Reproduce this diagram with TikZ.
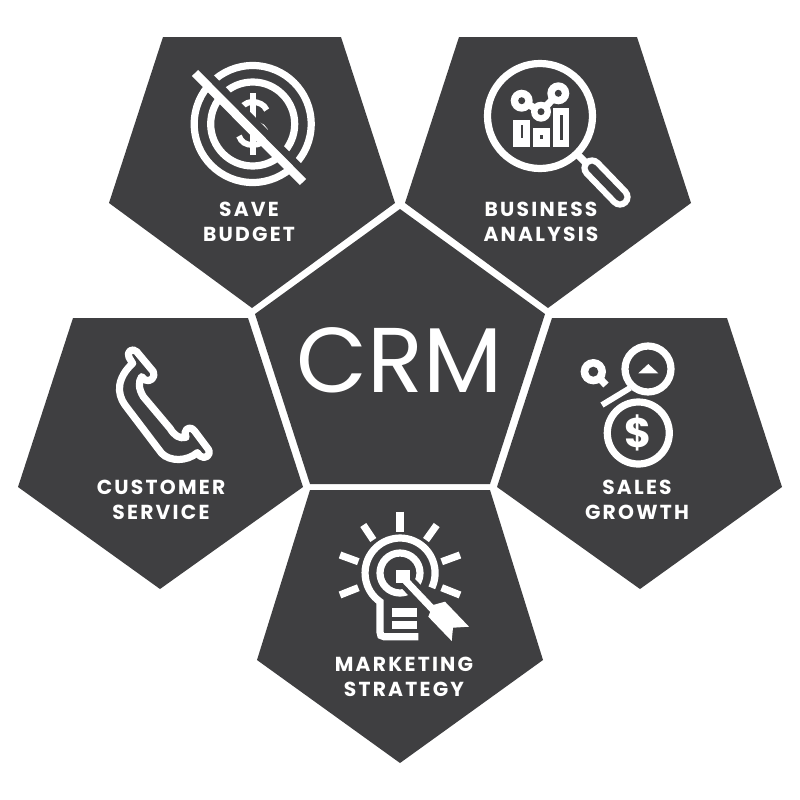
\documentclass[tikz,border=0pt]{standalone}
\usepackage{fontspec}
\newfontfamily\labelfont[LetterSpace=11]{Poppins}
\newfontfamily\titlefont{Poppins}
\definecolor{slate}{HTML}{3F3F41}

\begin{document}
\begin{tikzpicture}[x=0.75pt,y=-0.75pt]
\tikzstyle{panel} = [fill=slate]
\tikzstyle{label} = [white, align=center, font=\labelfont\bfseries\fontsize{15.2}{18.75}\selectfont]
\tikzstyle{icon} = [draw=white, line width=5.4pt]
\tikzstyle{thin icon} = [draw=white, line width=4.4pt]
\tikzstyle{gap} = [draw=slate, line width=12pt]

\useasboundingbox (0,0) rectangle (800,800);

\fill [panel] (163,37) -- (341,37) -- (395,203) -- (252,308) -- (109,203) -- cycle;
\fill [panel] (459,37) -- (637,37) -- (691,203) -- (548,308) -- (405,203) -- cycle;
\fill [panel] (400,209) -- (545,314) -- (490,484) -- (310,484) -- (255,314) -- cycle;
\fill [panel] (73,318) -- (248,318) -- (303,487) -- (160,589) -- (18,487) -- cycle;
\fill [panel] (552,318) -- (727,318) -- (782,487) -- (640,589) -- (497,487) -- cycle;
\fill [panel] (310,490) -- (490,490) -- (543,660) -- (400,763) -- (257,660) -- cycle;

\node (crm) at (400,360) {\titlefont\fontsize{69}{69}\selectfont\textcolor{white}{CRM}};
\node [label] (budget) at (249,222) {SAVE\\BUDGET};
\node [label] (analysis) at (541,222) {BUSINESS\\ANALYSIS};
\node [label] (service) at (161,500) {CUSTOMER\\SERVICE};
\node [label] (growth) at (637,500) {SALES\\GROWTH};
\node [label] (strategy) at (404,677) {MARKETING\\STRATEGY};

% save budget
\draw [icon] (252.7,124) circle [radius=58.5];
\draw [icon] (252.7,124) circle [radius=42];
\draw [thin icon] (252.7,93) -- (252.7,155);
\draw [thin icon] (266.7,110) .. controls (264,104) and (258,102) .. (252.7,102) .. controls (245,102) and (240,107) .. (240,113) .. controls (240,120) and (246,124) .. (252.7,124) .. controls (260,124) and (266,128) .. (266,135) .. controls (266,141) and (260,145) .. (252.7,145) .. controls (246,145) and (241,142) .. (239,136);
\draw [gap, line width=9pt] (199,69) -- (307,178);
\draw [icon, line width=6.5pt] (195,73) -- (303,182);

% business analysis
\draw [icon] (540,116) circle [radius=52.5];
\draw [icon] (578,155) -- (591,168);
\draw [white, line width=16pt, line cap=round] (592,168) -- (620,197);
\draw [slate, line width=6.5pt, line cap=round] (592,168) -- (620,197);
\fill [white] (513.3,120) rectangle (530,147.3);
\fill [white] (533.3,128.3) rectangle (550,147.3);
\fill [white] (552.7,108.3) rectangle (569.3,147.3);
\fill [slate] (520.7,125) rectangle (523.3,138);
\fill [slate] (540,135) rectangle (542.7,139.3);
\fill [slate] (560,115) rectangle (562.7,140);
\draw [icon] (521.7,100.7) -- (541,111.7) -- (558.3,93.3);
\fill [white] (521.7,100.7) circle [radius=11];
\fill [white] (541,111.7) circle [radius=10];
\fill [white] (558.3,93.3) circle [radius=11];
\fill [slate] (521.7,100.7) circle [radius=3.5];
\fill [slate] (541,111.7) circle [radius=3.5];
\fill [slate] (558.3,93.3) circle [radius=3.5];

% customer service
\begin{scope}[shift={(90,340)},x=0.25pt,y=-0.25pt]
\draw [icon, line join=round] (140,35) -- (190,95) .. controls (198,112) and (180,128) .. (165,120) -- (155,110) .. controls (145,125) and (145,145) .. (160,170) -- (240,265) .. controls (252,285) and (268,298) .. (288,292) -- (285,278) .. controls (288,262) and (305,260) .. (313,272) -- (355,328) .. controls (365,345) and (345,360) .. (330,348) -- (322,338) .. controls (290,365) and (240,365) .. (215,340) -- (105,195) .. controls (80,160) and (80,115) .. (128,70) -- (117,52) .. controls (108,35) and (128,22) .. (140,35) -- cycle;
\end{scope}

% sales growth
\draw [icon] (648,369) circle [radius=23];
\draw [thin icon] (630,388) -- (602,405);
\fill [white] (638.3,373.3) -- (658.3,373.3) -- (648.3,364) -- cycle;
\draw [icon] (593.3,371.7) -- (606,385);
\fill [white] (593.3,371.7) circle [radius=12.7];
\fill [slate] (593.3,371.7) circle [radius=5];
\draw [icon] (638.3,433) circle [radius=31];
\node (coin) at (638.3,433) {\titlefont\bfseries\fontsize{31}{31}\selectfont\textcolor{white}{\$}};

% marketing strategy
\draw [icon] (400,511.7) -- (400,531.7);
\draw [icon] (363.3,525) -- (373.3,540);
\draw [icon] (436.7,525) -- (426,540);
\draw [icon] (340,555) -- (358.3,561.7);
\draw [icon] (460,555) -- (441.7,561.7);
\draw [icon] (340,595) -- (358.3,587.7);
\draw [icon] (460,595) -- (441.7,587.7);
\draw [icon] (418.3,636.7) -- (384,636.7) .. controls (381,636.7) and (380,635) .. (380,632) -- (380,601.7) arc [start angle=125, end angle=385, radius=35];
\draw [icon] (400,573) circle [radius=20];
\draw [gap] (403,578) -- (440,617);
\fill [white] (391.7,608.3) rectangle (416.7,616.7);
\fill [white] (391.7,621) rectangle (416.7,629);
\fill [white] (396,570) rectangle (410,583);
\draw [icon] (403,578) -- (435,611.7);
\fill [white] (433,605) -- (445,601.7) -- (469,626.7) -- (453,627.7) -- (451.7,641) -- (428.3,616.7) -- cycle;
\end{tikzpicture}
\end{document}
